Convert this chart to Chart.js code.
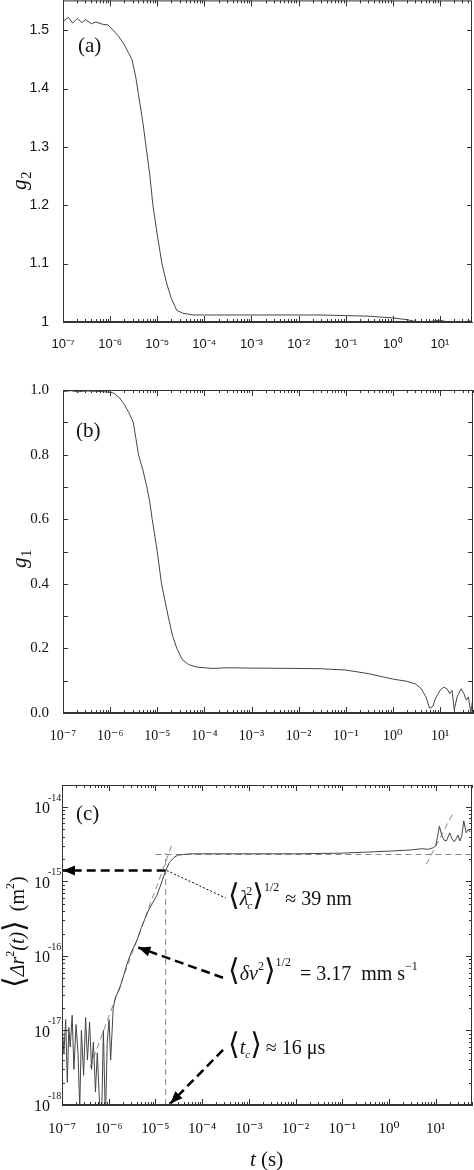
<!DOCTYPE html>
<html><head><meta charset="utf-8">
<script src="https://cdn.jsdelivr.net/npm/chart.js@4"></script>
<style>
body{margin:0;background:#fff;width:474px;height:1170px;position:relative;overflow:hidden}
.w{position:absolute;left:0;width:474px}
</style></head><body>
<div class="w" style="top:-14px;height:374px"><canvas id="ca"></canvas></div>
<div class="w" style="top:375px;height:375px"><canvas id="cb"></canvas></div>
<div class="w" style="top:772px;height:398px"><canvas id="cc"></canvas></div>
<script>
// ---- data ----
const xTickLabels = ['10⁻⁷','10⁻⁶','10⁻⁵','10⁻⁴','10⁻³','10⁻²','10⁻¹','10⁰','10¹'];
const xTickValues = [1e-7,1e-6,1e-5,1e-4,1e-3,1e-2,1e-1,1,10];

const tA = [1e-7,1.3e-7,1.6e-7,2e-7,2.5e-7,3e-7,4e-7,5e-7,7e-7,9e-7,1.15e-6,1.5e-6,2e-6,2.5e-6,2.9e-6,3.5e-6,4e-6,5e-6,5.8e-6,7e-6,8.1e-6,1e-5,1.26e-5,1.6e-5,2e-5,2.6e-5,3.5e-5,5.8e-5,1e-4,1e-3,3e-3,1e-2,3e-2,1e-1,3e-1,1,2,3,5,8,10,15,20,30,45];
const gA = [1.515,1.522,1.512,1.52,1.513,1.518,1.511,1.514,1.51,1.509,1.50,1.49,1.475,1.46,1.45,1.42,1.39,1.34,1.30,1.25,1.20,1.15,1.10,1.065,1.04,1.02,1.015,1.012,1.012,1.012,1.012,1.012,1.012,1.011,1.010,1.007,1.004,1.001,1.0,1.002,1.003,1.0,1.001,1.0,1.002];
const aTicks = [1,1.1,1.2,1.3,1.4,1.5];

const tB = [1e-7,1.5e-7,2e-7,3e-7,5e-7,7e-7,1e-6,1.2e-6,1.6e-6,2e-6,2.5e-6,3.1e-6,4e-6,5e-6,6e-6,7e-6,7.8e-6,1e-5,1.23e-5,1.7e-5,2.1e-5,2.6e-5,3.4e-5,4.6e-5,7e-5,1e-4,1.5e-4,3e-4,1e-3,1e-2,3e-2,1e-1,3e-1,1,2,3,4,5,6,7,8,10,12,14,16,18,20,23,28,32,36,40,45,50];
const gB = [0.995,0.998,0.994,0.997,0.996,0.995,0.993,0.99,0.975,0.955,0.93,0.9,0.8,0.75,0.7,0.65,0.6,0.5,0.4,0.3,0.24,0.2,0.165,0.15,0.142,0.14,0.138,0.14,0.139,0.138,0.137,0.133,0.122,0.105,0.098,0.09,0.075,0.05,0.015,0.02,0.045,0.07,0.08,0.075,0.06,0.07,0.01,0.05,0.075,0.06,0.04,0.05,0.0,0.05];

const tC = [1e-7,1.1e-7,1.2e-7,1.3e-7,1.4e-7,1.5e-7,1.65e-7,1.8e-7,2e-7,2.2e-7,2.4e-7,2.6e-7,2.9e-7,3.2e-7,3.5e-7,3.9e-7,4.3e-7,4.7e-7,5.2e-7,5.7e-7,6.3e-7,7e-7,7.7e-7,8.5e-7,9.3e-7,1.02e-6,1.1e-6,1.25e-6,1.4e-6,1.7e-6,2e-6,2.5e-6,3e-6,4e-6,5e-6,6e-6,7e-6,8.5e-6,1.07e-5,1.3e-5,1.66e-5,2e-5,2.5e-5,3e-5,4e-5,5.6e-5,1e-4,1e-3,1e-2,1e-1,1,3,5,7,9,10,11,12,13.5,15,17,20,22,25,28,30,33,36,40,45,50,55];
const mC = [1.2e-17,5e-18,1.4e-17,2e-18,1.1e-17,6e-18,1.6e-17,3e-18,1.2e-17,5e-18,9e-19,1e-17,2.5e-18,1.5e-17,4e-18,1.3e-17,3e-18,7e-18,1.5e-18,5e-18,1.2e-18,5e-19,1e-17,6e-19,7e-18,1.4e-17,4e-18,2e-17,2.8e-17,3.6e-17,5e-17,8e-17,1.1e-16,1.6e-16,2.4e-16,3.2e-16,4e-16,5e-16,6.5e-16,9e-16,1.4e-15,1.8e-15,2.1e-15,2.25e-15,2.3e-15,2.35e-15,2.35e-15,2.35e-15,2.35e-15,2.4e-15,2.55e-15,2.65e-15,2.75e-15,2.7e-15,2.85e-15,3e-15,4e-15,5.5e-15,4.2e-15,3.6e-15,3.5e-15,4.5e-15,3.8e-15,3.4e-15,3.8e-15,4.2e-15,3.5e-15,4e-15,6.5e-15,4.5e-15,5e-15,4.6e-15];
const cTicks = [1e-18,1e-17,1e-16,1e-15,1e-14];
const cTickExps = ['-18','-17','-16','-15','-14'];

// fit / guide lines
const fitPlateauT = [1e-5,60], fitPlateauM = [2.3e-15,2.3e-15];
const fitBallT = [4e-7,2.3e-5], fitBallM = [3.2e-18,3.2e-15];
const fitLateT = [6.3,25], fitLateM = [1.7e-15,8.9e-15];
const tcLineT = [1.66e-5,1.66e-5], tcLineM = [1e-18,2.4e-15];
const arrow1T = [1.66e-5,1.05e-7], arrow1M = [1.4e-15,1.4e-15];
const arrow2T = [2.8e-4,4.3e-6], arrow2M = [5.1e-17,1.3e-16];
const arrow3T = [2.8e-4,2.1e-5], arrow3M = [5.5e-18,1.05e-18];
const dotT = [1.75e-5,3.2e-4], dotM = [1.4e-15,6e-16];

const pts=(xs,ys)=>xs.map((x,i)=>({x,y:ys[i]}));
const SERIF='"Liberation Serif","DejaVu Serif",serif';
const SANS='"Liberation Sans",Arial,sans-serif';

function tickPlugin(logY, yMinorStep){
 return {id:'tk',afterDraw(ch){
  const c=ch.ctx,a=ch.chartArea,xs=ch.scales.x,ys=ch.scales.y;
  c.save();c.strokeStyle='#333';c.lineWidth=1;
  c.strokeRect(a.left+0.5,a.top+0.5,a.right-a.left-1,a.bottom-a.top-1);
  for(let d=-7;d<=2;d++)for(let k=1;k<=9;k++){const v=k*Math.pow(10,d);
    if(v<xs.min||v>xs.max)continue;const p=Math.round(xs.getPixelForValue(v))+0.5,L=k==1?6:3;
    c.beginPath();c.moveTo(p,a.bottom);c.lineTo(p,a.bottom-L);c.moveTo(p,a.top);c.lineTo(p,a.top+L);c.stroke();}
  if(logY){for(let d=-18;d<=-14;d++)for(let k=1;k<=9;k++){const v=k*Math.pow(10,d);
    if(v<ys.min||v>ys.max)continue;const p=Math.round(ys.getPixelForValue(v))+0.5,L=k==1?6:3;
    c.beginPath();c.moveTo(a.left,p);c.lineTo(a.left+L,p);c.moveTo(a.right,p);c.lineTo(a.right-L,p);c.stroke();}}
  else{for(let v=ys.min;v<=ys.max+1e-9;v+=yMinorStep){const p=Math.round(ys.getPixelForValue(v))+0.5;
    c.beginPath();c.moveTo(a.left,p);c.lineTo(a.left+5,p);c.moveTo(a.right,p);c.lineTo(a.right-5,p);c.stroke();}}
  c.restore();}};
}
function labelPlugin(txt,x,y){return {id:'lb',afterDraw(ch){const c=ch.ctx;c.save();c.font='21px '+SERIF;c.fillStyle='#111';c.fillText(txt,x,y);c.restore();}};}
function ytitlePlugin(sub,y){return {id:'yt',afterDraw(ch){const c=ch.ctx;c.save();c.translate(26,y);c.rotate(-Math.PI/2);c.fillStyle='#111';
 c.font='italic 21px '+SERIF;c.fillText('g',-8,0);c.font='15px '+SERIF;c.fillText(sub,3,5);c.restore();}};}

function xScale(max,font,labels,h){
 return {type:'logarithmic',min:1e-7,max:max,grid:{display:false},border:{color:'#333'},
  afterBuildTicks:s=>{s.ticks=xTickValues.map(v=>({value:v}));},
  afterFit:s=>{s.height=h;},
  ticks:{autoSkip:false,maxRotation:0,padding:7,color:'#111',font:font,callback:(v,i)=>labels[i]}};
}
function baseOpts(){return {responsive:true,maintainAspectRatio:false,animation:false,
 plugins:{legend:{display:false},tooltip:{enabled:false}},elements:{point:{radius:0}}};}

// panel a
new Chart(document.getElementById('ca'),{type:'scatter',
 data:{datasets:[{data:pts(tA,gA),showLine:true,borderColor:'#444',borderWidth:1}]},
 options:Object.assign(baseOpts(),{layout:{padding:{top:0,right:2,left:0,bottom:0}},
  scales:{x:xScale(48,{family:SANS,size:13},xTickLabels,38),
   y:{min:1,max:1.551,grid:{display:false},border:{color:'#333'},afterFit:s=>{s.width=63;},
    afterBuildTicks:s=>{s.ticks=aTicks.map(v=>({value:v}));},
    ticks:{color:'#111',font:{family:SANS,size:14},padding:6,callback:v=>v===1?'1':v.toFixed(1)}}}}),
 plugins:[tickPlugin(false,0.1),labelPlugin('(a)',78,66),ytitlePlugin('2',196)]});

// panel b
new Chart(document.getElementById('cb'),{type:'scatter',
 data:{datasets:[{data:pts(tB,gB),showLine:true,borderColor:'#444',borderWidth:1}]},
 options:Object.assign(baseOpts(),{layout:{padding:{top:10,right:1,left:0,bottom:0}},
  scales:{x:xScale(50,{family:SERIF,size:14},xTickLabels,37),
   y:{min:0,max:1,grid:{display:false},border:{color:'#333'},afterFit:s=>{s.width=63;},
    afterBuildTicks:s=>{s.ticks=[0,0.2,0.4,0.6,0.8,1].map(v=>({value:v}));},
    ticks:{color:'#111',font:{family:SERIF,size:15},padding:6,callback:v=>v.toFixed(1)}}}}),
 plugins:[tickPlugin(false,0.1),labelPlugin('(b)',76,62),ytitlePlugin('1',185)]});

// panel c
const gray={showLine:true,borderColor:'#888',borderWidth:1,borderDash:[6,4],pointRadius:0};
const blk={showLine:true,borderColor:'#000',borderWidth:2.5,borderDash:[9,5],pointRadius:0,arrow:true};
function rich(c,x,y,parts){let cx=x;for(const p of parts){c.font=(p.it?'italic ':'')+p.s+'px '+SERIF;c.fillText(p.t,cx+(p.dx||0),y+(p.dy||0));cx+=c.measureText(p.t).width+(p.dx||0)+(p.gap||0);}}
new Chart(document.getElementById('cc'),{type:'scatter',
 data:{datasets:[
  {data:pts(tC,mC),showLine:true,borderColor:'#444',borderWidth:1,pointRadius:0},
  Object.assign({data:pts(fitPlateauT,fitPlateauM)},gray),
  Object.assign({data:pts(fitBallT,fitBallM)},gray),
  Object.assign({data:pts(fitLateT,fitLateM)},gray),
  Object.assign({data:pts(tcLineT,tcLineM)},gray),
  {data:pts(dotT,dotM),showLine:true,borderColor:'#000',borderWidth:1,borderDash:[2,2],pointRadius:0},
  Object.assign({data:pts(arrow1T,arrow1M)},blk),
  Object.assign({data:pts(arrow2T,arrow2M)},blk),
  Object.assign({data:pts(arrow3T,arrow3M)},blk)]},
 options:Object.assign(baseOpts(),{layout:{padding:{top:10,right:2,left:0,bottom:0}},
  scales:{x:xScale(60,{family:SERIF,size:15},xTickLabels,65),
   y:{type:'logarithmic',min:1e-18,max:1.97e-14,grid:{display:false},border:{color:'#333'},afterFit:s=>{s.width=62;},
    afterBuildTicks:s=>{s.ticks=cTicks.map(v=>({value:v}));},
    ticks:{color:'#111',font:{family:SERIF,size:15},padding:4,callback:()=>''}}}}),
 plugins:[tickPlugin(true),labelPlugin('(c)',76,48),
  {id:'ylab',afterDraw(ch){const c=ch.ctx,ys=ch.scales.y;c.save();c.fillStyle='#111';c.textBaseline='middle';
    cTicks.forEach((v,i)=>{const p=ys.getPixelForValue(v);c.font='16px '+SERIF;c.textAlign='right';c.fillText('10',50,p+2);
     c.font='10px '+SERIF;c.textAlign='left';c.fillText(cTickExps[i],48,p-9);});c.restore();}},
  {id:'arr',afterDatasetsDraw(ch){const c=ch.ctx;c.save();c.fillStyle='#000';
    ch.data.datasets.forEach((d,i)=>{if(!d.arrow)return;const m=ch.getDatasetMeta(i).data;const p0=m[0],p1=m[1];
     const ang=Math.atan2(p1.y-p0.y,p1.x-p0.x),L=12,W=5;c.beginPath();c.moveTo(p1.x,p1.y);
     c.lineTo(p1.x-L*Math.cos(ang)+W*Math.sin(ang),p1.y-L*Math.sin(ang)-W*Math.cos(ang));
     c.lineTo(p1.x-L*Math.cos(ang)-W*Math.sin(ang),p1.y-L*Math.sin(ang)+W*Math.cos(ang));c.closePath();c.fill();});
    c.restore();}},
  {id:'txt',afterDraw(ch){const c=ch.ctx;c.save();c.fillStyle='#111';c.textBaseline='alphabetic';
    rich(c,228,133,[{t:'⟨',s:30},{t:'λ',s:20,it:true},{t:'c',s:11,it:true,dy:4,dx:-1},{t:'2',s:12,dy:-10,dx:-6},{t:'⟩',s:30},{t:'1/2',s:12,dy:-14},{t:'≈',s:20,dx:6},{t:' 39 nm',s:20}]);
    rich(c,228,208,[{t:'⟨',s:30},{t:'δv',s:20,it:true},{t:'2',s:12,dy:-10},{t:'⟩',s:30},{t:'1/2',s:12,dy:-14},{t:' = 3.17  mm s',s:20,dx:4},{t:'−1',s:12,dy:-10}]);
    rich(c,228,282,[{t:'⟨',s:30},{t:'t',s:20,it:true},{t:'c',s:11,it:true,dy:4},{t:'⟩',s:30},{t:'≈',s:20,dx:4},{t:' 16 μs',s:20}]);
    c.font='italic 21px '+SERIF;const w=c.measureText('t').width;c.fillText('t',250,394);c.font='21px '+SERIF;c.fillText(' (s)',250+w,394);
    c.translate(24,131);c.rotate(-Math.PI/2);
    rich(c,-85,0,[{t:'⟨',s:30},{t:'Δr',s:20,it:true},{t:'2',s:12,dy:-10},{t:'(t)',s:20,it:true},{t:'⟩',s:30},{t:' (m',s:20,dx:4},{t:'2',s:12,dy:-10},{t:')',s:20}]);
    c.restore();}}]});
</script></body></html>
